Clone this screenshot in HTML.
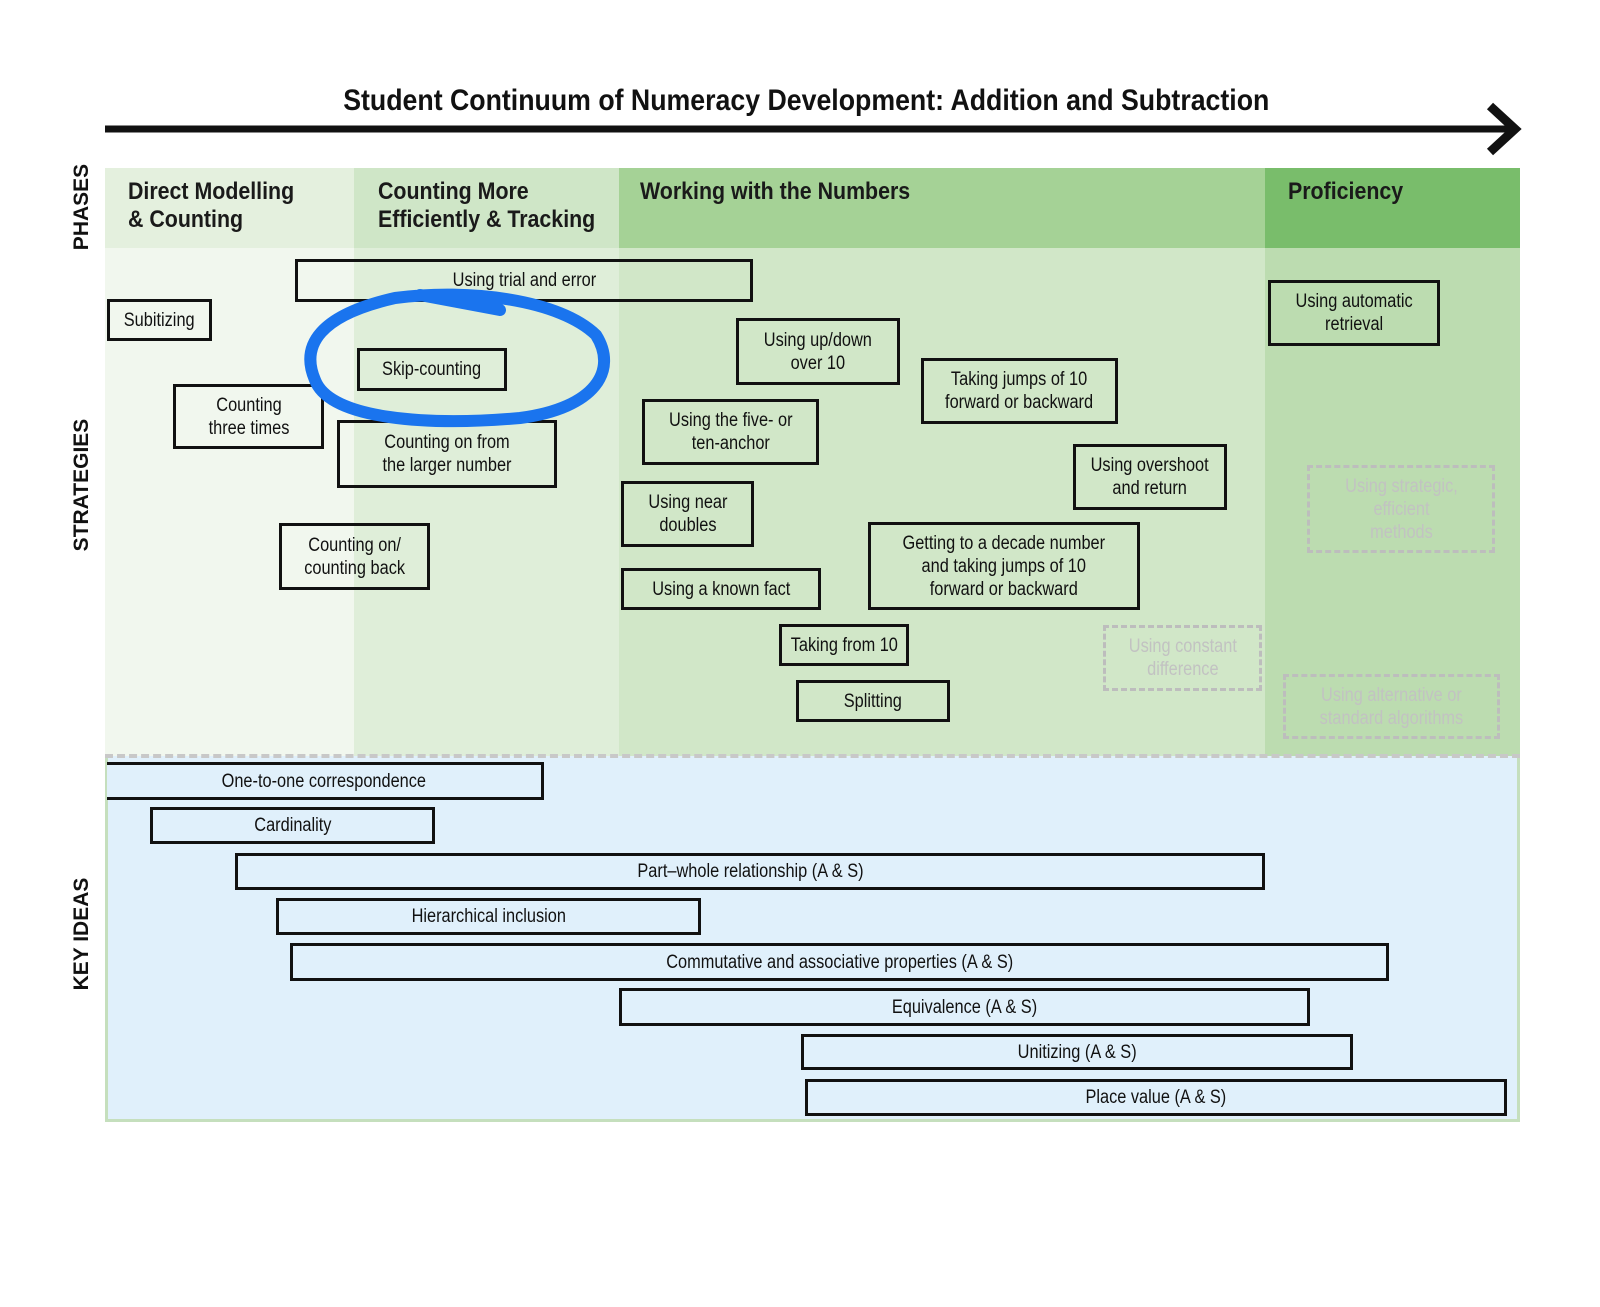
<!DOCTYPE html>
<html><head><meta charset="utf-8">
<style>
*{margin:0;padding:0;box-sizing:border-box}
body{width:1600px;height:1307px;background:#fff;position:relative;overflow:hidden;font-family:"Liberation Sans",sans-serif}
.a{position:absolute}
.b,.d,.k{position:absolute;display:flex;align-items:center;justify-content:center;text-align:center;font-size:19px;line-height:23px;white-space:nowrap}
.b{border:3px solid #111;color:#111}
.d{border:3px dashed #bdbdbd;color:#c2c2c2}
.k{border:3px solid #111;color:#111;background:#e0f0fb}
.b span,.d span,.k span{display:inline-block;transform:scaleX(.86)}
.h{position:absolute;font-weight:bold;font-size:24px;line-height:28px;color:#1a1a1a;top:178px;transform:scaleX(.89);transform-origin:left center;white-space:nowrap}
.side{position:absolute;font-weight:bold;font-size:21px;transform:rotate(-90deg);transform-origin:center;white-space:nowrap;color:#111;width:200px;text-align:center}
</style></head><body>
<div class="a" style="left:0;width:1600px;top:84px;text-align:center;font-weight:bold;font-size:30px;color:#111;padding-left:12px"><span style="display:inline-block;transform:scaleX(.89)">Student Continuum of Numeracy Development: Addition and Subtraction</span></div>
<svg class="a" style="left:0;top:0" width="1600" height="170">
<line x1="105" y1="129" x2="1515" y2="129" stroke="#111" stroke-width="7"/>
<polyline points="1490,106 1515,129 1490,152" fill="none" stroke="#111" stroke-width="9"/>
</svg>
<div class="a" style="left:105px;top:168px;width:249px;height:80px;background:#e4f0de"></div>
<div class="a" style="left:105px;top:248px;width:249px;height:508px;background:#f1f7ee"></div>
<div class="a" style="left:354px;top:168px;width:265px;height:80px;background:#cfe6c7"></div>
<div class="a" style="left:354px;top:248px;width:265px;height:508px;background:#dfeed9"></div>
<div class="a" style="left:619px;top:168px;width:646px;height:80px;background:#a5d296"></div>
<div class="a" style="left:619px;top:248px;width:646px;height:508px;background:#d1e7c8"></div>
<div class="a" style="left:1265px;top:168px;width:255px;height:80px;background:#79bd6b"></div>
<div class="a" style="left:1265px;top:248px;width:255px;height:508px;background:#bcdcb0"></div>
<div class="a" style="left:105px;top:756px;width:1415px;height:366px;background:#e0f0fb;border:3px solid #c5dfbd;border-top:none"></div>
<div class="a" style="left:105px;top:754px;width:1415px;height:0;border-top:4px dashed #c8c8c8"></div>
<div class="h" style="left:128px">Direct Modelling<br>&amp; Counting</div>
<div class="h" style="left:378px">Counting More<br>Efficiently &amp; Tracking</div>
<div class="h" style="left:640px">Working with the Numbers</div>
<div class="h" style="left:1288px">Proficiency</div>
<div class="side" style="left:-18px;top:195px">PHASES</div>
<div class="side" style="left:-18px;top:473px">STRATEGIES</div>
<div class="side" style="left:-18px;top:922px">KEY IDEAS</div>
<div class="b" style="left:295px;top:259px;width:458px;height:43px"><span>Using trial and error</span></div>
<div class="b" style="left:107px;top:299px;width:105px;height:42px"><span>Subitizing</span></div>
<div class="b" style="left:357px;top:348px;width:150px;height:43px"><span>Skip-counting</span></div>
<div class="b" style="left:173px;top:384px;width:151px;height:65px"><span>Counting<br>three times</span></div>
<div class="b" style="left:337px;top:420px;width:220px;height:68px"><span>Counting on from<br>the larger number</span></div>
<div class="b" style="left:279px;top:523px;width:151px;height:67px"><span>Counting on/<br>counting back</span></div>
<div class="b" style="left:736px;top:318px;width:164px;height:67px"><span>Using up/down<br>over 10</span></div>
<div class="b" style="left:921px;top:358px;width:197px;height:66px"><span>Taking jumps of 10<br>forward or backward</span></div>
<div class="b" style="left:642px;top:399px;width:177px;height:66px"><span>Using the five- or<br>ten-anchor</span></div>
<div class="b" style="left:1073px;top:444px;width:154px;height:66px"><span>Using overshoot<br>and return</span></div>
<div class="b" style="left:621px;top:481px;width:133px;height:66px"><span>Using near<br>doubles</span></div>
<div class="b" style="left:868px;top:522px;width:272px;height:88px"><span>Getting to a decade number<br>and taking jumps of 10<br>forward or backward</span></div>
<div class="b" style="left:621px;top:568px;width:200px;height:42px"><span>Using a known fact</span></div>
<div class="b" style="left:779px;top:624px;width:130px;height:42px"><span>Taking from 10</span></div>
<div class="b" style="left:796px;top:680px;width:154px;height:42px"><span>Splitting</span></div>
<div class="b" style="left:1268px;top:280px;width:172px;height:66px"><span>Using automatic<br>retrieval</span></div>
<div class="d" style="left:1103px;top:625px;width:159px;height:66px"><span>Using constant<br>difference</span></div>
<div class="d" style="left:1307px;top:465px;width:188px;height:88px"><span>Using strategic,<br>efficient<br>methods</span></div>
<div class="d" style="left:1283px;top:674px;width:217px;height:65px"><span>Using alternative or<br>standard algorithms</span></div>
<svg class="a" style="left:0;top:0" width="1600" height="800">
<path d="M395,298 C470,288 560,300 596,335 C618,370 596,408 520,418 C430,426 330,420 315,380 C300,345 320,315 395,298 Z M420,295 L500,310" fill="none" stroke="#1a74ee" stroke-width="12" stroke-linecap="round"/>
</svg>
<div class="k" style="left:107px;top:762px;width:437px;height:38px;border-left:none"><span>One-to-one correspondence</span></div>
<div class="k" style="left:150px;top:807px;width:285px;height:37px"><span>Cardinality</span></div>
<div class="k" style="left:235px;top:853px;width:1030px;height:37px"><span>Part–whole relationship (A &amp; S)</span></div>
<div class="k" style="left:276px;top:898px;width:425px;height:37px"><span>Hierarchical inclusion</span></div>
<div class="k" style="left:290px;top:943px;width:1099px;height:38px"><span>Commutative and associative properties (A &amp; S)</span></div>
<div class="k" style="left:619px;top:988px;width:691px;height:38px"><span>Equivalence (A &amp; S)</span></div>
<div class="k" style="left:801px;top:1034px;width:552px;height:36px"><span>Unitizing (A &amp; S)</span></div>
<div class="k" style="left:805px;top:1079px;width:702px;height:37px"><span>Place value (A &amp; S)</span></div>
</body></html>
